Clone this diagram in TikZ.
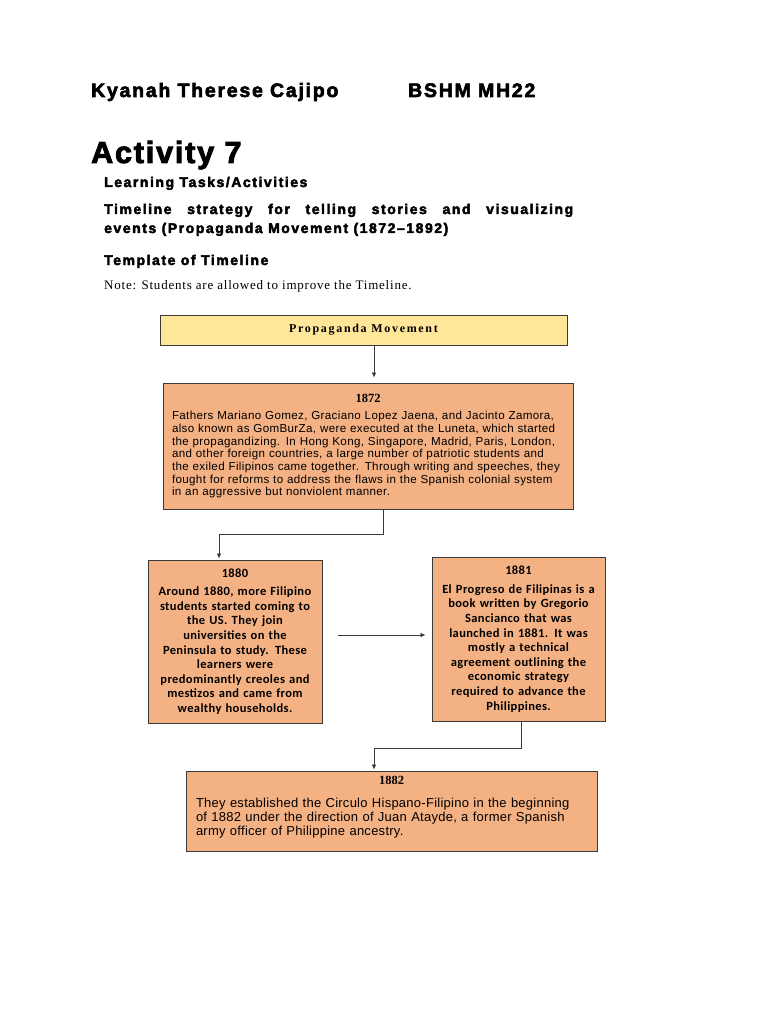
\documentclass[tikz,border=0pt]{standalone}
\usepackage{fontspec}
\setmainfont{Liberation Serif}
\setsansfont{Liberation Sans}
\newfontfamily\heavyfont{Liberation Sans}[Ligatures=TeX,BoldFeatures={FakeBold=3}]
\newfontfamily\calfont{Carlito}
\usetikzlibrary{arrows.meta}
\definecolor{boxyellow}{HTML}{FFE699}
\definecolor{boxsalmon}{HTML}{F4B183}
\definecolor{edgegray}{HTML}{3A3A3A}

\begin{document}
\begin{tikzpicture}[x=1pt,y=-1pt,
  event/.style={draw=edgegray,line width=0.9pt,fill=boxsalmon,inner sep=0pt},
  link/.style={draw=edgegray,line width=0.7pt,-{Latex[length=5pt,width=4.5pt]}},
  head/.style={anchor=base west,inner sep=0pt,
    font=\heavyfont\bfseries\fontsize{19.5}{21}\selectfont\addfontfeatures{LetterSpace=9}},
  sub/.style={anchor=base west,inner sep=0pt,
    font=\heavyfont\bfseries\fontsize{14}{16}\selectfont\addfontfeatures{LetterSpace=11,FakeBold=1.5}},
  yearhead/.style={font=\rmfamily\bfseries\fontsize{12}{14}\selectfont\addfontfeatures{LetterSpace=14}},
  calbody/.style={font=\calfont\bfseries\fontsize{12.5}{14.6}\selectfont\addfontfeatures{LetterSpace=3}}]
  \fill[white] (0,0) rectangle (768,1024);
  \useasboundingbox (0,0) rectangle (768,1024);

  \node[head] (name) at (91,97) {Kyanah Therese Cajipo};
  \node[head] (course) at (408,97) {BSHM MH22};
  \node[head,font=\heavyfont\bfseries\fontsize{30.5}{32}\selectfont\addfontfeatures{LetterSpace=6}] (act)
    at (91,163) {Activity 7};
  \node[sub] (tasks) at (104,187) {Learning Tasks/Activities};
  \node[sub] (strat1) at (104,214)
    {\makebox[469pt][s]{Timeline strategy for telling stories and visualizing}};
  \node[sub] (strat2) at (104,233) {events (Propaganda Movement (1872–1892)};
  \node[sub] (template) at (104,265) {Template of Timeline};
  \node[anchor=base west,inner sep=0pt,
    font=\rmfamily\fontsize{13}{15}\selectfont\addfontfeatures{LetterSpace=6}] (note) at (104,289)
    {Note: Students are allowed to improve the Timeline.};

  \node[event,fill=boxyellow,minimum width=407pt,minimum height=30pt,yearhead] (title) at (363.5,330)
    {Propaganda Movement};
  \node[event,minimum width=410pt,minimum height=126pt,text width=392pt,align=left,
    font=\sffamily\fontsize{11.6}{12.7}\selectfont\addfontfeatures{LetterSpace=3}] (y1872) at (368,446)
    {\makebox[\linewidth]{\rmfamily\bfseries\fontsize{12.5}{14}\selectfont 1872}\\[5pt]
     Fathers Mariano Gomez, Graciano Lopez Jaena, and Jacinto Zamora,\\
     also known as GomBurZa, were executed at the Luneta, which started\\
     the propagandizing. In Hong Kong, Singapore, Madrid, Paris, London,\\
     and other foreign countries, a large number of patriotic students and\\
     the exiled Filipinos came together. Through writing and speeches, they\\
     fought for reforms to address the flaws in the Spanish colonial system\\
     in an aggressive but nonviolent manner.};
  \node[event,minimum width=174pt,minimum height=163pt,text width=170pt,align=center,calbody] (y1880)
    at (235,641.5)
    {1880\\[4pt]
     Around 1880, more Filipino\\ students started coming to\\ the US. They join\\
     universities on the\\ Peninsula to study. These\\ learners were\\
     predominantly creoles and\\ mestizos and came from\\ wealthy households.};
  \node[event,minimum width=173pt,minimum height=164pt,text width=170pt,align=center,calbody] (y1881)
    at (518.5,639)
    {1881\\[4pt]
     El Progreso de Filipinas is a\\ book written by Gregorio\\ Sancianco that was\\
     launched in 1881. It was\\ mostly a technical\\ agreement outlining the\\
     economic strategy\\ required to advance the\\ Philippines.};
  \node[event,minimum width=411pt,minimum height=80pt,text width=391pt,align=left,
    font=\sffamily\fontsize{13}{14}\selectfont\addfontfeatures{LetterSpace=2}] (y1882) at (391.5,811)
    {\makebox[\linewidth]{\rmfamily\bfseries\fontsize{12.5}{14}\selectfont 1882}\\[9pt]
     They established the Circulo Hispano-Filipino in the beginning\\
     of 1882 under the direction of Juan Atayde, a former Spanish\\
     army officer of Philippine ancestry.\\[-4pt]\mbox{}};

  \coordinate (s1880) at (338,635);
  \draw[link,shorten >=5pt] ([xshift=10.5pt]title.south) -- ([xshift=10.5pt]title.south |- y1872.north);
  \draw[link,shorten >=1pt] ([xshift=15pt]y1872.south) -- ++(0,25) -| ([xshift=-16pt]y1880.north);
  \draw[link,shorten >=6pt] (s1880) -- (y1881.west |- s1880);
  \draw[link,shorten >=1pt] ([xshift=2.5pt]y1881.south) -- ++(0,27) -| ([xshift=-17.5pt]y1882.north);
\end{tikzpicture}
\end{document}
